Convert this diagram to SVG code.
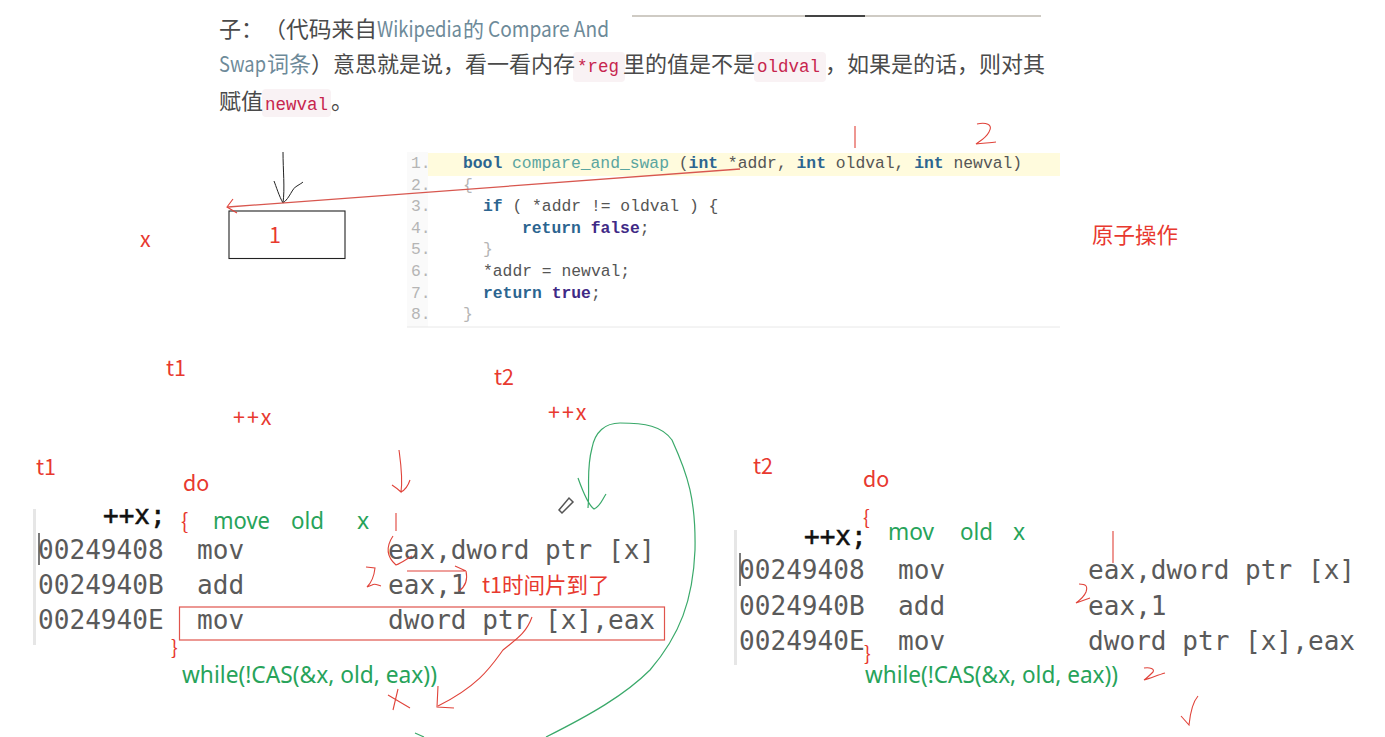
<svg xmlns="http://www.w3.org/2000/svg" width="1385" height="737" viewBox="0 0 1385 737">
<style>
text{white-space:pre}
.cn{font-family:"Noto Sans CJK SC","Noto Sans",sans-serif;font-size:22px;fill:#4a4a4a}
.lnk{font-family:"Noto Sans CJK SC",sans-serif;font-size:21px;fill:#6d8a99}
.chip{font-family:"Liberation Mono",monospace;font-size:17.500px;fill:#c7254e}
.chipbg{fill:#f9f2f4}
.c{font-family:"Liberation Mono",monospace;font-size:16.350px;fill:#555}
.n{fill:#b5b5b5}
.k{font-weight:bold;fill:#2c6590}
.b{font-weight:bold;fill:#3f2a86}
.f{fill:#5aa5a0}
.asm{font-family:"DejaVu Sans Mono",monospace;font-size:26.100px;fill:#5a5a5a}
.inc{font-family:"DejaVu Sans Mono",monospace;font-size:26px;fill:#111;stroke:#111;stroke-width:.5}
.r{font-family:"Noto Sans CJK SC","Noto Sans",sans-serif;font-size:21.500px;fill:#e8392f}
.g{font-family:"Noto Sans",sans-serif;font-size:23px;fill:#27a35a}
.rl{fill:none;stroke:#e0433a;stroke-width:1.100}
.gl{fill:none;stroke:#3aa96a;stroke-width:1.200}
.kl{fill:none;stroke:#222;stroke-width:1}
</style>
<rect width="1385" height="737" fill="#fff"/>
<rect x="632" y="15" width="409" height="2" fill="#cfcbc4"/>
<rect x="805" y="15" width="60" height="2" fill="#444"/>
<rect x="573" y="52" width="52" height="30" rx="4" class="chipbg"/>
<rect x="754" y="52" width="72" height="30" rx="4" class="chipbg"/>
<rect x="262" y="89" width="69" height="28" rx="4" class="chipbg"/>
<text x="219" y="37" class="cn">子：</text>
<text x="264" y="37" class="cn">（</text>
<text x="286" y="37" class="cn" textLength="91" lengthAdjust="spacingAndGlyphs">代码来自</text>
<text x="377" y="37" class="lnk" textLength="85" lengthAdjust="spacingAndGlyphs">Wikipedia</text>
<text x="463" y="37" class="lnk">的</text>
<text x="488" y="37" class="lnk" textLength="121" lengthAdjust="spacingAndGlyphs">Compare And</text>
<text x="219" y="72" class="lnk" textLength="47" lengthAdjust="spacingAndGlyphs">Swap</text>
<text x="267" y="72" class="lnk" style="font-size:22px">词条</text>
<text x="311" y="72" class="cn">）</text>
<text x="333" y="72" class="cn">意思就是说，看一看内存</text>
<text x="577" y="72" class="chip">*reg</text>
<text x="623" y="72" class="cn">里的值是不是</text>
<text x="757" y="72" class="chip">oldval</text>
<text x="825" y="72" class="cn">，如果是的话，则对其</text>
<text x="219" y="109" class="cn">赋值</text>
<text x="265" y="110" class="chip">newval</text>
<text x="331" y="109" class="cn">。</text>
<rect x="407" y="152" width="653" height="175" fill="#fff"/>
<rect x="407" y="152" width="21" height="175" fill="#fafafa"/>
<rect x="428" y="153" width="632" height="23" fill="#fffbdd"/>
<line x1="407" y1="327" x2="1060" y2="327" stroke="#e8e8e8"/>
<g class="c">
<text x="411" y="168" class="c n">1.</text><text x="411" y="190" class="c n">2.</text><text x="411" y="211" class="c n">3.</text><text x="411" y="233" class="c n">4.</text><text x="411" y="254" class="c n">5.</text><text x="411" y="276" class="c n">6.</text><text x="411" y="298" class="c n">7.</text><text x="411" y="319" class="c n">8.</text>
<text x="463" y="168" class="c"><tspan class="k">bool</tspan> <tspan class="f">compare_and_swap</tspan> (<tspan class="k">int</tspan> *addr, <tspan class="k">int</tspan> oldval, <tspan class="k">int</tspan> newval)</text>
<text x="463" y="190" class="c n">{</text>
<text x="483" y="211" class="c"><tspan class="k">if</tspan> ( *addr != oldval ) {</text>
<text x="522" y="233" class="c"><tspan class="k">return</tspan> <tspan class="b">false</tspan>;</text>
<text x="483" y="254" class="c n">}</text>
<text x="483" y="276" class="c">*addr = newval;</text>
<text x="483" y="298" class="c"><tspan class="k">return</tspan> <tspan class="b">true</tspan>;</text>
<text x="463" y="319" class="c n">}</text>
</g>
<rect x="229" y="211" width="116" height="47.500" fill="none" stroke="#222" stroke-width="1.100"/>
<text x="269" y="243" class="r">1</text>
<text x="140" y="247" class="r">x</text>
<text x="1092" y="243" class="r">原子操作</text>
<path class="rl" d="M855 126V148M977 124C985 122 994 124 989 132C986 138 980 141 976 144C983 143 990 143 996 142"/>
<path class="kl" d="M283 152C283 170 285 188 283 203C279 196 276 186 274 181M283 203C290 198 292 188 297 186C300 184 302 183 303 182"/>
<path d="M740 169L228 207" fill="none" stroke="#d8574f" stroke-width="1.300"/>
<path class="rl" d="M233 199L227 207L237 213"/>
<text x="166" y="376" class="r">t1</text>
<text x="494" y="385" class="r">t2</text>
<text x="233" y="425" class="r" letter-spacing="2">++x</text>
<text x="548" y="420" class="r" letter-spacing="2">++x</text>
<text x="36" y="475" class="r">t1</text>
<text x="753" y="474" class="r">t2</text>
<text x="183" y="491" class="r">do</text>
<text x="863" y="487" class="r">do</text>
<text x="181" y="529" class="r">{</text>
<text x="213" y="529" class="g" textLength="57" lengthAdjust="spacingAndGlyphs">move</text><text x="291" y="529" class="g" textLength="33" lengthAdjust="spacingAndGlyphs">old</text><text x="357" y="529" class="g">x</text>
<text x="888" y="540" class="g" textLength="46" lengthAdjust="spacingAndGlyphs">mov</text><text x="960" y="540" class="g" textLength="33" lengthAdjust="spacingAndGlyphs">old</text><text x="1013" y="540" class="g">x</text>
<text x="103" y="524" class="inc">++x;</text>
<text x="804" y="545" class="inc">++x;</text>
<g class="asm">
<text x="38" y="559" class="asm">00249408</text><text x="197" y="559" class="asm">mov</text><text x="388" y="559" class="asm">eax,dword ptr [x]</text>
<text x="38" y="594" class="asm">0024940B</text><text x="197" y="594" class="asm">add</text><text x="388" y="594" class="asm">eax,1</text>
<text x="38" y="629" class="asm">0024940E</text><text x="197" y="629" class="asm">mov</text><text x="388" y="629" class="asm">dword ptr [x],eax</text>
<text x="739" y="579" class="asm">00249408</text><text x="898" y="579" class="asm">mov</text><text x="1088" y="579" class="asm">eax,dword ptr [x]</text>
<text x="739" y="615" class="asm">0024940B</text><text x="898" y="615" class="asm">add</text><text x="1088" y="615" class="asm">eax,1</text>
<text x="739" y="650" class="asm">0024940E</text><text x="898" y="650" class="asm">mov</text><text x="1088" y="650" class="asm">dword ptr [x],eax</text>
</g>
<rect x="33" y="509" width="3" height="136" fill="#e6e6e6"/>
<rect x="734" y="530" width="3" height="135" fill="#e6e6e6"/>
<path d="M39 533V565M740 553V586" stroke="#222" fill="none" stroke-width="1.200"/>
<text x="482" y="593" class="r">t1时间片到了</text>
<rect x="179.500" y="607" width="485" height="33" fill="none" stroke="#e0544c" stroke-width="1.200"/>
<text x="171" y="655" class="r" style="font-size:20px">}</text>
<text x="864" y="661" class="r" style="font-size:20px">}</text>
<text x="863" y="525" class="r" style="font-size:20px">{</text>
<text x="182" y="683" class="g" textLength="255" lengthAdjust="spacingAndGlyphs">while(!CAS(&amp;x, old, eax))</text>
<text x="865" y="683" class="g" textLength="253" lengthAdjust="spacingAndGlyphs">while(!CAS(&amp;x, old, eax))</text>
<g id="annotations">
<path class="rl" d="M399 450C401 465 403 478 401 492C398 489 395 487 392 485M401 492C405 490 408 486 410 480"/>
<path class="rl" d="M396 513V531"/>
<path class="rl" d="M393 536C385 548 388 558 396 565C402 563 408 558 412 556"/>
<path class="rl" d="M366 567L375 568C374 577 372 582 367 587L372 585C375 583 377 585 381 586"/>
<path class="rl" d="M407 571H465M455 566L466 571M466 571C468 580 466 586 459 591"/>
<path class="rl" d="M532 617C526 634 515 640 503 650C492 665 480 685 438 706M438 686L437 707L454 708"/>
<path class="rl" d="M398 689L393 710M388 695L410 708"/>
<path class="gl" d="M415 733L424 737M546 737C590 715 625 695 650 670C680 635 693 600 695 550C696 500 688 475 672 440C662 426 645 423 620 423C605 423 595 432 592 448C586 470 590 485 588 508M578 478C583 492 588 505 594 509C600 507 602 500 606 494"/>
<path d="M559 510L569 498L573 502L562 513Z" fill="#fff" stroke="#555" stroke-width="1.500"/>
<path class="rl" d="M1113 531V563"/>
<path class="rl" d="M1079 584C1086 584 1088 586 1086 592C1084 597 1080 600 1076 603L1090 598"/>
<path class="rl" d="M1144 668C1150 667 1155 669 1153 672C1150 675 1147 678 1144 680C1151 678 1158 675 1165 673"/>
<path class="rl" d="M1181 716L1189 725C1190 715 1192 703 1198 696"/>
</g>
</svg>
